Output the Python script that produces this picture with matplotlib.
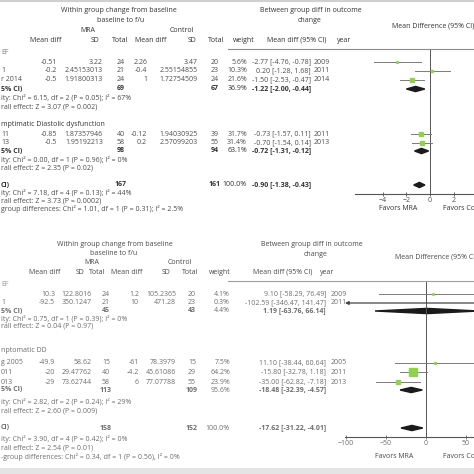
import matplotlib
matplotlib.use("Agg")
import matplotlib.pyplot as plt
from matplotlib.patches import Polygon, Rectangle
from matplotlib.lines import Line2D

plt.rcParams['font.family'] = ['Open Sans', 'DejaVu Sans']

W = H = 474
FS = 5.0
GREEN = '#92d050'

# ---------------- top panel data (change in E/e') ----------------
t1_study = ["", "1", "r 2014"]
t1_mra_md = ["-0.51", "-0.2", "-0.5"]
t1_mra_sd = ["3.22", "2.45153013", "1.91800313"]
t1_mra_n = [24, 21, 24]
t1_ctl_md = ["2.26", "-0.4", "1"]
t1_ctl_sd = ["3.47", "2.55154855", "1.72754509"]
t1_ctl_n = [20, 23, 24]
t1_w = [5.6, 10.3, 21.6]
t1_md = [-2.77, 0.20, -1.50]
t1_lo = [-4.76, -1.28, -2.53]
t1_hi = [-0.78, 1.68, -0.47]
t1_year = [2009, 2011, 2014]
t1_sub = [69, 67, 36.9, -1.22, -2.00, -0.44]

t2_study = ["11", "13"]
t2_mra_md = ["-0.85", "-0.5"]
t2_mra_sd = ["1.87357946", "1.95192213"]
t2_mra_n = [40, 58]
t2_ctl_md = ["-0.12", "0.2"]
t2_ctl_sd = ["1.94030925", "2.57099203"]
t2_ctl_n = [39, 55]
t2_w = [31.7, 31.4]
t2_md = [-0.73, -0.70]
t2_lo = [-1.57, -1.54]
t2_hi = [0.11, 0.14]
t2_year = [2011, 2013]
t2_sub = [98, 94, 63.1, -0.72, -1.31, -0.12]
t_total = [167, 161, 100.0, -0.90, -1.38, -0.43]
t_ticks = [-4, -2, 0, 2]

# ---------------- bottom panel data ----------------
b1_study = ["", "1"]
b1_mra_md = ["10.3", "-92.5"]
b1_mra_sd = ["122.8016", "350.1247"]
b1_mra_n = [24, 21]
b1_ctl_md = ["1.2", "10"]
b1_ctl_sd = ["105.2365", "471.28"]
b1_ctl_n = [20, 23]
b1_w = [4.1, 0.3]
b1_md = [9.10, -102.59]
b1_lo = [-58.29, -346.47]
b1_hi = [76.49, 141.47]
b1_year = [2009, 2011]
b1_sub = [45, 43, 4.4, 1.19, -63.76, 66.14]

b2_study = ["g 2005", "011", "013"]
b2_mra_md = ["-49.9", "-20", "-29"]
b2_mra_sd = ["58.62", "29.47762", "73.62744"]
b2_mra_n = [15, 40, 58]
b2_ctl_md = ["-61", "-4.2", "6"]
b2_ctl_sd = ["78.3979", "45.61086", "77.07788"]
b2_ctl_n = [15, 29, 55]
b2_w = [7.5, 64.2, 23.9]
b2_md = [11.10, -15.80, -35.00]
b2_lo = [-38.44, -32.78, -62.82]
b2_hi = [60.64, 1.18, -7.18]
b2_year = [2005, 2011, 2013]
b2_sub = [113, 109, 95.6, -18.48, -32.39, -4.57]
b_total = [158, 152, 100.0, -17.62, -31.22, -4.01]
b_ticks = [-100, -50, 0, 50]

fig = plt.figure(figsize=(W / 100, H / 100), dpi=100)
fig.patch.set_facecolor('white')


def T(x, y, s, ha="left", color='#4d4d4d', size=FS, weight="normal"):
    fig.text(x / W, 1 - y / H, s, ha=ha, va="center", color=color,
             fontsize=size, fontweight=weight)


def hline(y, x0, x1, color='#8c8c8c', lw=0.8):
    fig.add_artist(Line2D([x0 / W, x1 / W], [1 - y / H, 1 - y / H],
                          transform=fig.transFigure, color=color, lw=lw))


def ci_text(md, lo, hi):
    return f"{md:.2f} [{lo:.2f}, {hi:.2f}]"


def study_rows(ys, c, study, mmd, msd, mn, cmd, csd, cn, w, md, lo, hi, yr, col):
    for i, y in enumerate(ys):
        T(1, y, study[i], color=col)
        T(c['mra_md'], y, mmd[i], 'right', col)
        T(c['mra_sd'], y, msd[i], 'right', col)
        T(c['mra_n'], y, str(mn[i]), 'center', col)
        T(c['ctl_md'], y, cmd[i], 'right', col)
        T(c['ctl_sd'], y, csd[i], 'right', col)
        T(c['ctl_n'], y, str(cn[i]), 'center', col)
        T(c['w'], y, f"{w[i]:.1f}%", 'right', col)
        T(c['ci'], y, ci_text(md[i], lo[i], hi[i]), 'right', col)
        T(c['yr'], y, str(yr[i]), color=col)


def sub_row(y, c, label, sub, col):
    T(1, y, label, color=col, weight='bold')
    T(c['mra_n'], y, str(sub[0]), 'center', col, weight='bold')
    T(c['ctl_n'], y, str(sub[1]), 'center', col, weight='bold')
    T(c['w'], y, f"{sub[2]:.1f}%", 'right', col)
    T(c['ci'], y, ci_text(sub[3], sub[4], sub[5]), 'right', col, weight='bold')


def forest_axes(x0, x1, ytop, ybot, zero_px, ppu, ticks, col):
    ax = fig.add_axes([x0 / W, 1 - ybot / H, (x1 - x0) / W, (ybot - ytop) / H])
    ax.set_xlim((x0 - zero_px) / ppu, (x1 - zero_px) / ppu)
    ax.set_ylim(ybot, ytop)
    ax.patch.set_alpha(0)
    for s in ['top', 'left', 'right']:
        ax.spines[s].set_visible(False)
    ax.spines['bottom'].set_color('#555555')
    ax.spines['bottom'].set_linewidth(0.8)
    ax.set_yticks([])
    ax.set_xticks(ticks)
    ax.tick_params(axis='x', direction='inout', length=3, width=0.6, pad=1,
                   labelsize=FS, colors=col)
    ax.axvline(0, color='#555555', lw=0.7)
    return ax


def marks(ax, ys, md, lo, hi, w):
    x0, x1 = ax.get_xlim()
    for y, m, l, h, wt in zip(ys, md, lo, hi, w):
        if l < x0:
            ax.annotate("", xy=(x0, y), xytext=(min(h, x1), y),
                        arrowprops=dict(arrowstyle='-|>', color='#444444', lw=0.9,
                                        mutation_scale=5, shrinkA=0, shrinkB=0))
            continue
        ax.plot([l, h], [y, y], color='#7a7a7a', lw=0.7, clip_on=False)
        ax.plot(m, y, 's', color=GREEN, ms=0.8 + 0.07 * wt, mec=GREEN)


def diamond(ax, y, sub, hh=2.6):
    m, l, h = sub[3], sub[4], sub[5]
    ax.add_patch(Polygon([(l, y), (m, y - hh), (h, y), (m, y + hh)],
                         closed=True, color='#1a1a1a', clip_on=False))


# ================= TOP PANEL =================
TC = '#4d4d4d'
THC = '#333333'
tcols = dict(mra_md=57, mra_sd=103, mra_n=121, ctl_md=147, ctl_sd=198, ctl_n=215,
             w=247, ci=311, yr=314)
fig.add_artist(Line2D([0, 1], [1 - 0.8 / H] * 2, transform=fig.transFigure,
                      color='#d0d0d0', lw=1.5))
T(119, 10, "Within group change from baseline", 'center', THC)
T(121, 21, "baseline to f/u", 'center', THC)
T(88, 31, "MRA", 'center', THC)
T(182, 31, "Control", 'center', THC)
for x, s in [(46, "Mean diff"), (95, "SD"), (120, "Total"), (151, "Mean diff"),
             (192, "SD"), (216, "Total")]:
    T(x, 40, s, 'center', THC)
T(233, 40, "weight", color=THC)
T(297, 40, "Mean diff (95% CI)", 'center', THC)
T(337, 40, "year", color=THC)
T(311, 10, "Between group diff in outcome", 'center', THC)
T(309, 21, "change", 'center', THC)
T(392, 26, "Mean Difference (95% CI)", color=THC)
hline(49, 228, 474)

t1_y = [62, 71, 80]
t2_y = [134, 143]
T(1, 52, "EF", color='#808080')
study_rows(t1_y, tcols, t1_study, t1_mra_md, t1_mra_sd, t1_mra_n, t1_ctl_md, t1_ctl_sd,
           t1_ctl_n, t1_w, t1_md, t1_lo, t1_hi, t1_year, TC)
sub_row(89, tcols, "5% CI)", t1_sub, THC)
T(1, 98, "ity: Chi² = 6.15, df = 2 (P = 0.05); I² = 67%", color=TC)
T(1, 107, "rall effect: Z = 3.07 (P = 0.002)", color=TC)
T(1, 124, "mptimatic Diastolic dysfunction", color=THC)
study_rows(t2_y, tcols, t2_study, t2_mra_md, t2_mra_sd, t2_mra_n, t2_ctl_md, t2_ctl_sd,
           t2_ctl_n, t2_w, t2_md, t2_lo, t2_hi, t2_year, TC)
sub_row(151, tcols, "5% CI)", t2_sub, THC)
T(1, 160, "ity: Chi² = 0.00, df = 1 (P = 0.96); I² = 0%", color=TC)
T(1, 168, "rall effect: Z = 2.35 (P = 0.02)", color=TC)
sub_row(185, tcols, "CI)", t_total, THC)
T(1, 193, "ity: Chi² = 7.18, df = 4 (P = 0.13); I² = 44%", color=TC)
T(1, 201, "rall effect: Z = 3.73 (P = 0.0002)", color=TC)
T(1, 209, "group differences: Chi² = 1.01, df = 1 (P = 0.31); I² = 2.5%", color=TC)

axt = forest_axes(355, 474, 49, 194, 430, 11.8, t_ticks, TC)
marks(axt, t1_y, t1_md, t1_lo, t1_hi, t1_w)
marks(axt, t2_y, t2_md, t2_lo, t2_hi, t2_w)
diamond(axt, 89, t1_sub)
diamond(axt, 151, t2_sub)
diamond(axt, 185, t_total)
T(398, 208, "Favors MRA", 'center', THC)
T(443, 208, "Favors Control", color=THC)

# ================= BOTTOM PANEL =================
BC = '#6e6e6e'
BHC = '#4a4a4a'
bcols = dict(mra_md=55, mra_sd=92, mra_n=106, ctl_md=139, ctl_sd=176, ctl_n=192,
             w=230, ci=326, yr=331)
T(115, 244, "Within group change from baseline", 'center', BHC)
T(114, 253, "baseline to f/u", 'center', BHC)
T(92, 262, "MRA", 'center', BHC)
T(180, 263, "Control", 'center', BHC)
for x, s in [(45, "Mean diff"), (80, "SD"), (97, "Total"), (127, "Mean diff"),
             (166, "SD"), (190, "Total"), (220, "weight")]:
    T(x, 272, s, 'center', BHC)
T(283, 272, "Mean diff (95% CI)", 'center', BHC)
T(320, 272, "year", color=BHC)
T(312, 244, "Between group diff in outcome", 'center', BHC)
T(316, 254, "change", 'center', BHC)
T(395, 257, "Mean Difference (95% CI)", color=BHC)
hline(281, 228, 474, color='#a0a0a0')

b1_y = [294, 303]
b2_y = [363, 372, 382]
T(1, 284, "EF", color='#9a9a9a')
study_rows(b1_y, bcols, b1_study, b1_mra_md, b1_mra_sd, b1_mra_n, b1_ctl_md, b1_ctl_sd,
           b1_ctl_n, b1_w, b1_md, b1_lo, b1_hi, b1_year, BC)
sub_row(311, bcols, "5% CI)", b1_sub, BC)
T(1, 319, "ity: Chi² = 0.75, df = 1 (P = 0.39); I² = 0%", color=BC)
T(1, 326, "rall effect: Z = 0.04 (P = 0.97)", color=BC)
T(1, 350, "nptomatic DD", color=BC)
study_rows(b2_y, bcols, b2_study, b2_mra_md, b2_mra_sd, b2_mra_n, b2_ctl_md, b2_ctl_sd,
           b2_ctl_n, b2_w, b2_md, b2_lo, b2_hi, b2_year, BC)
sub_row(390, bcols, "5% CI)", b2_sub, BC)
T(1, 402, "ity: Chi² = 2.82, df = 2 (P = 0.24); I² = 29%", color=BC)
T(1, 411, "rall effect: Z = 2.60 (P = 0.009)", color=BC)
sub_row(428, bcols, "CI)", b_total, BC)
T(1, 439, "ity: Chi² = 3.90, df = 4 (P = 0.42); I² = 0%", color=BC)
T(1, 448, "rall effect: Z = 2.54 (P = 0.01)", color=BC)
T(1, 457, "-group differences: Chi² = 0.34, df = 1 (P = 0.56), I² = 0%", color=BC)

axb = forest_axes(345, 474, 281, 437, 426, 0.8, b_ticks, BC)
marks(axb, b1_y, b1_md, b1_lo, b1_hi, b1_w)
marks(axb, b2_y, b2_md, b2_lo, b2_hi, b2_w)
diamond(axb, 311, b1_sub)
diamond(axb, 390, b2_sub)
diamond(axb, 428, b_total)
T(394, 457, "Favors MRA", 'center', BHC)
T(443, 457, "Favors Control", color=BHC)

fig.add_artist(Rectangle((0, 0), 1, 6 / H, transform=fig.transFigure,
                         color='#e4e4e4', lw=0))

fig.savefig("out.png", dpi=100)
